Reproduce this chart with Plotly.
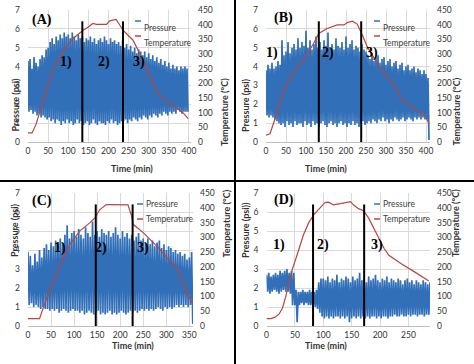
import plotly.graph_objects as go

W, H = 474, 364

# ---------------- data ----------------
# Panel A (pressure envelope every 5 min, t = 0..395)
A_step = 5
A_p_hi = [4.3, 4.4, 3.9, 4.5, 4.2, 4.0, 4.4, 4.6, 4.5,
          4.9, 5.0, 5.3, 5.5, 5.2, 5.6, 5.4, 5.7, 5.5, 5.8, 5.6, 5.7,
          5.5, 5.8, 5.6, 5.4, 5.7, 5.5, 5.6, 5.3, 5.5, 5.4, 5.6, 5.3, 5.5, 5.2, 5.4, 5.5, 5.3, 5.6, 5.4, 5.2,
          5.5, 5.3, 5.4, 5.2, 5.3, 5.1,
          5.4, 5.0, 5.2, 4.9, 5.1, 4.8, 5.0, 4.7, 4.9, 4.8, 4.6, 4.8, 4.5, 4.7, 4.4, 4.6, 4.3, 4.5, 4.2, 4.4,
          4.1, 4.3, 4.0, 4.2, 3.9, 4.1, 3.9, 4.0, 3.8, 4.0, 3.9, 4.0, 3.9]
A_p_lo = [1.6, 1.7, 1.5, 1.6, 1.4, 1.5, 1.3, 1.4, 1.3,
          1.2, 1.3, 1.1, 1.2, 1.0, 1.2, 1.1, 0.9, 1.1, 1.0, 1.2, 1.0,
          1.1, 0.9, 1.0, 1.2, 1.0, 1.1, 0.9, 1.0, 1.1, 0.9, 1.0, 1.2, 1.0, 0.9, 1.1, 1.0, 1.0, 0.9, 1.1, 1.0,
          1.2, 1.0, 1.1, 0.9, 1.0, 1.1,
          1.1, 1.2, 1.0, 1.2, 1.1, 1.3, 1.2, 1.1, 1.3, 1.2, 1.4, 1.3, 1.2, 1.4, 1.3, 1.5, 1.4, 1.3, 1.5, 1.4,
          1.6, 1.5, 1.4, 1.6, 1.5, 1.6, 1.5, 1.7, 1.6, 1.5, 1.6, 1.6, 1.6]
A_temp_t = [0, 10, 20, 29, 40, 54, 65, 79, 95, 112, 137, 150, 161, 170, 195, 203, 219, 228, 236, 261, 286, 310, 327, 360, 385, 398]
A_temp = [31, 31, 60, 97, 150, 216, 255, 290, 325, 353, 381, 392, 404, 401, 401, 413, 418, 399, 381, 347, 279, 199, 159, 125, 100, 80]
A_lines = [135, 236]
A_region_t = [95, 190, 276]
A_region_p = [4.25, 4.25, 4.25]

# Panel B (every 5 min, t = 0..405)
B_step = 5
B_p_hi = [3.8, 4.1, 3.9, 4.2, 3.9, 4.0, 4.3, 4.1,
          5.4, 4.6, 4.8, 5.3, 4.7, 5.0, 5.2, 4.9, 5.5, 5.0, 5.3, 5.1, 5.9,
          5.0, 5.4, 4.9, 5.2, 5.6, 5.0, 5.3, 4.9, 5.4, 5.1, 5.8, 5.0, 5.2, 4.9, 5.5, 5.1, 5.0, 5.3, 4.9, 5.6,
          5.0, 5.2, 5.4, 4.9, 5.1, 5.0, 4.8, 5.2, 4.9, 4.8,
          4.6, 4.4, 4.7, 4.3, 4.5, 4.6, 4.2, 4.4, 4.5, 4.1, 4.3, 4.4, 4.0, 4.2, 4.3, 3.9, 4.1, 4.2, 3.8, 4.0,
          4.1, 3.8, 3.9, 4.0, 3.7, 3.9, 3.8, 3.6, 3.8, 3.6, 3.4]
B_p_lo = [1.4, 1.3, 1.4, 1.3, 1.2, 1.1, 1.0, 0.9,
          1.0, 0.8, 1.1, 0.9, 1.0, 0.8, 1.1, 0.9, 1.0, 1.0, 0.8, 1.1, 0.9,
          1.0, 0.8, 1.1, 0.9, 1.0, 0.8, 1.0, 1.1, 0.9, 0.8, 1.0, 1.1, 0.9, 1.0, 0.8, 1.0, 1.1, 0.9, 1.0, 0.8,
          1.0, 0.9, 1.1, 0.9, 1.0, 0.8, 1.0, 1.1, 0.9, 1.0,
          1.1, 1.0, 1.2, 1.1, 1.0, 1.2, 1.1, 1.3, 1.1, 1.2, 1.0, 1.2, 1.1, 1.3, 1.2, 1.1, 1.2, 1.3, 1.1, 1.2,
          1.3, 1.2, 1.1, 1.3, 1.2, 1.3, 1.2, 1.3, 1.2, 1.2, 0.1]
B_temp_t = [0, 10, 27, 44, 69, 94, 119, 132, 153, 178, 195, 203, 216, 228, 241, 253, 278, 304, 329, 337, 362, 396, 408]
B_temp = [23, 28, 97, 177, 239, 279, 336, 370, 387, 399, 399, 407, 412, 402, 364, 325, 268, 222, 177, 148, 120, 91, 63]
B_lines = [132, 238]
B_region_t = [14, 154, 266]
B_region_p = [4.7, 4.7, 4.7]

# Panel C (every 5 min, t = 0..355)
C_step = 5
C_p_hi = [3.9, 3.7, 3.2, 3.8, 3.4, 4.0, 3.6, 4.1,
          4.3, 4.0, 4.4, 4.2, 4.5, 4.3, 4.6, 4.4, 4.8, 5.3, 4.6, 4.9, 5.0,
          4.7, 5.1, 4.8, 4.6, 5.2, 4.9, 4.7, 5.5, 4.8, 5.0, 4.7, 5.1, 4.9, 4.8, 5.0, 4.7, 4.9, 5.2, 4.8, 4.6,
          5.0, 4.7, 4.9, 4.6, 4.8, 4.5, 4.7, 4.9, 4.5, 4.6,
          4.4, 4.6, 4.3, 4.5, 4.2, 4.4, 4.5, 4.1, 4.3, 4.0, 4.2, 4.1, 3.9, 4.0, 3.8, 3.9, 3.7, 3.8, 3.5, 3.6, 3.9]
C_p_lo = [1.1, 1.2, 1.0, 1.1, 1.0, 0.9, 1.0, 0.9,
          0.9, 0.8, 0.9, 0.8, 0.9, 0.7, 0.8, 0.9, 0.8, 0.7, 0.8, 0.9, 0.8,
          0.8, 0.7, 0.8, 0.6, 0.7, 0.8, 0.7, 0.6, 0.7, 0.8, 0.6, 0.7, 0.6, 0.7, 0.8, 0.6, 0.7, 0.6, 0.7, 0.8,
          0.7, 0.6, 0.7, 0.8, 0.7, 0.8, 0.7, 0.8, 0.9, 0.8,
          0.9, 0.8, 0.9, 0.8, 0.9, 1.0, 0.9, 0.8, 1.0, 0.9, 1.0, 0.9, 1.0, 1.1, 1.0, 1.1, 1.0, 1.1, 1.0, 1.1, 0.1]
C_temp_t = [0, 25, 40, 54, 69, 91, 112, 134, 145, 156, 170, 178, 217, 225, 228, 250, 279, 308, 326, 344, 357]
C_temp = [25, 25, 92, 148, 204, 276, 321, 349, 366, 394, 411, 411, 410, 371, 344, 316, 271, 220, 190, 114, 75]
C_lines = [147, 227]
C_region_t = [70, 159, 250]
C_region_p = [4.13, 4.13, 4.13]

# Panel D (every 4 min, t = 0..288)
D_step = 4
D_p_hi = [2.7, 2.8, 2.6, 2.7, 2.8, 2.7, 2.9, 2.8, 2.9, 3.0, 2.8, 2.9,
          2.8, 1.9, 1.8, 1.8, 1.9, 1.8, 1.8, 1.9, 1.8,
          1.8, 1.9, 2.3, 2.5,
          2.5, 2.4, 2.6, 2.3, 2.5, 2.4, 2.7, 2.3, 2.5, 2.4,
          2.6, 2.5, 2.3, 2.6, 2.4, 2.5, 2.8, 2.4, 2.5, 2.3,
          2.6, 2.4, 2.5, 2.7, 2.4, 2.3, 2.5, 2.4, 2.6, 2.3,
          2.5, 2.4, 2.3, 2.5, 2.4, 2.2, 2.4, 2.5, 2.3, 2.4,
          2.2, 2.4, 2.3, 2.2, 2.4, 2.3, 2.2, 2.3]
D_p_lo = [1.8, 1.7, 1.8, 1.9, 1.8, 1.7, 1.8, 1.9, 1.8, 1.8, 1.7, 1.1,
          1.1, 0.2, 1.1, 1.2, 1.1, 1.2, 1.1, 1.1, 1.0,
          1.0, 0.9, 0.7, 0.5,
          0.4, 0.5, 0.4, 0.5, 0.4, 0.5, 0.5, 0.4, 0.5, 0.4,
          0.5, 0.2, 0.4, 0.5, 0.4, 0.5, 0.4, 0.5, 0.4, 0.5,
          0.4, 0.5, 0.5, 0.4, 0.5, 0.4, 0.5, 0.5, 0.4, 0.5,
          0.5, 0.6, 0.5, 0.5, 0.6, 0.5, 0.5, 0.6, 0.5, 0.6,
          0.6, 0.5, 0.6, 0.6, 0.5, 0.6, 0.6, 0.7]
D_temp_t = [0, 8, 15, 22, 28, 34, 40, 46, 53, 65, 74, 83, 94, 103, 109, 118, 130, 148, 153, 162, 171, 180, 195, 207, 215, 236, 260, 286]
D_temp = [25, 25, 30, 40, 60, 100, 150, 195, 235, 308, 348, 376, 399, 418, 419, 410, 414, 421, 410, 397, 390, 365, 308, 263, 240, 212, 184, 152]
D_lines = [82, 172]
D_region_t = [22, 99, 195]
D_region_p = [4.27, 4.27, 4.27]

panel_names = ["(A)", "(B)", "(C)", "(D)"]
panel_name_t = [36, 44, 31, 30]
panel_name_p = [6.45, 6.55, 6.56, 6.62]
region_texts = ["1)", "2)", "3)"]
x_ranges = [[0, 405], [0, 410], [0, 358], [0, 288]]
x_tick_max = [400, 400, 350, 250]
y_titles = ["Pressure (psi)", "Pressure (psi)", "Pressure (psi)", "Pressure (psi))"]
line_top = 6.4

# ---------------- styling / layout ----------------
P_COLOR = "#3170b8"
T_COLOR = "#b8453f"
GRID = "#d9d9d9"
TXT = "#333333"
FONT = "Lato, 'Open Sans', sans-serif"
SERIF = "'Liberation Serif', 'DejaVu Serif', serif"

# pixel boxes: (left, right, top, bottom)
boxes = [(28, 191, 10, 142), (266, 430, 10, 142), (28, 193, 193, 326), (266.5, 430, 193, 326)]

panels = [
    (A_step, A_p_hi, A_p_lo, A_temp_t, A_temp, A_lines, A_region_t, A_region_p),
    (B_step, B_p_hi, B_p_lo, B_temp_t, B_temp, B_lines, B_region_t, B_region_p),
    (C_step, C_p_hi, C_p_lo, C_temp_t, C_temp, C_lines, C_region_t, C_region_p),
    (D_step, D_p_hi, D_p_lo, D_temp_t, D_temp, D_lines, D_region_t, D_region_p),
]

fig = go.Figure()
layout = dict(width=W, height=H, margin=dict(l=0, r=0, t=0, b=0, pad=0), autosize=False,
              paper_bgcolor="white", plot_bgcolor="white", showlegend=False,
              font=dict(family=FONT, color=TXT))
shapes = []
annotations = []

for i, (step, hi, lo, tt, tv, lines, rt, rp) in enumerate(panels):
    n = i + 1
    xs = "" if n == 1 else str(n)
    ya = "" if n == 1 else str(n)
    yb = str(n + 4)
    L, R, T, B = boxes[i]
    # zigzag pressure signal between read peaks and troughs
    px, py = [], []
    for k, (h, l) in enumerate(zip(hi, lo)):
        t = k * step
        px += [t, t + step / 2]
        py += [h, l]
    fig.add_trace(go.Scatter(x=px, y=py, mode="lines", line=dict(color=P_COLOR, width=1.7),
                             xaxis="x" + xs, yaxis="y" + ya, hoverinfo="skip"))
    fig.add_trace(go.Scatter(x=tt, y=tv, mode="lines", line=dict(color=T_COLOR, width=1.2),
                             xaxis="x" + xs, yaxis="y" + yb, hoverinfo="skip"))

    layout["xaxis" + xs] = dict(domain=[L / W, R / W], anchor="y" + ya, range=x_ranges[i],
                                automargin=False,
                                tickmode="array", tickvals=list(range(0, x_tick_max[i] + 1, 50)),
                                showgrid=True, gridcolor=GRID, gridwidth=1, zeroline=False,
                                showline=True, linecolor="#bfbfbf", linewidth=1, ticks="",
                                tickfont=dict(size=8.5, family=FONT, color=TXT), ticklabelstandoff=1)
    layout["yaxis" + ya] = dict(domain=[1 - B / H, 1 - T / H], anchor="x" + xs, range=[0, 7],
                                automargin=False,
                                tickvals=list(range(0, 8)), showgrid=True, gridcolor=GRID,
                                zeroline=False, showline=False, ticks="",
                                tickfont=dict(size=8.5, family=FONT, color=TXT), ticklabelstandoff=7)
    layout["yaxis" + yb] = dict(domain=[1 - B / H, 1 - T / H], anchor="x" + xs, overlaying="y" + ya,
                                automargin=False,
                                side="right", range=[0, 450], tickvals=list(range(0, 451, 50)),
                                showgrid=False, zeroline=False, showline=False, ticks="",
                                tickfont=dict(size=8.5, family=FONT, color=TXT), ticklabelstandoff=6)

    # black boundary lines between regions
    for lx in lines:
        shapes.append(dict(type="line", xref="x" + xs, yref="y" + ya, x0=lx, x1=lx, y0=0, y1=line_top,
                           line=dict(color="black", width=2)))
    # region labels
    for txt, t_, p_ in zip(region_texts, rt, rp):
        annotations.append(dict(text="<b>%s</b>" % txt, x=t_, y=p_, xref="x" + xs, yref="y" + ya,
                                showarrow=False, font=dict(family=SERIF, size=14, color="black")))
    annotations.append(dict(text="<b>%s</b>" % panel_names[i], x=panel_name_t[i], y=panel_name_p[i],
                            xref="x" + xs, yref="y" + ya, showarrow=False,
                            font=dict(family=SERIF, size=14, color="black")))
    # axis titles
    cx = (L + R) / 2
    cy = (T + B) / 2
    annotations.append(dict(text="<b>Time (min)</b>", x=cx / W, y=1 - (B + 26) / H,
                            xref="paper", yref="paper", showarrow=False, borderpad=0,
                            font=dict(size=9, family=FONT, color=TXT)))
    annotations.append(dict(text="<b>%s</b>" % y_titles[i], x=(L - 21) / W, y=1 - cy / H,
                            xref="paper", yref="paper", showarrow=False, textangle=-90,
                            font=dict(size=9, family=FONT, color=TXT)))
    annotations.append(dict(text="<b>Temperature (°C)</b>", x=(R + 33) / W, y=1 - cy / H,
                            xref="paper", yref="paper", showarrow=False, textangle=-90,
                            font=dict(size=9, family=FONT, color=TXT)))
    # legend (text + short swatches)
    lx0 = R - 49
    for j, (name, col) in enumerate([("Pressure", P_COLOR), ("Temperature", T_COLOR)]):
        yy = T + 11 + j * 15
        shapes.append(dict(type="line", xref="paper", yref="paper", x0=(lx0 - 7) / W, x1=(lx0 - 1) / W,
                           y0=1 - yy / H, y1=1 - yy / H, line=dict(color=col, width=1.5)))
        annotations.append(dict(text=name, x=lx0 / W, y=1 - yy / H, xref="paper", yref="paper",
                                xanchor="left", showarrow=False, font=dict(size=8.5, family=FONT, color="#404040")))

# dividers between panels
shapes.append(dict(type="line", xref="paper", yref="paper", x0=235 / W, x1=235 / W, y0=0, y1=1,
                   line=dict(color="black", width=2)))
shapes.append(dict(type="line", xref="paper", yref="paper", x0=0, x1=1, y0=1 - 181 / H, y1=1 - 181 / H,
                   line=dict(color="black", width=2)))

layout["shapes"] = shapes
layout["annotations"] = annotations
fig.update_layout(**layout)
fig.write_html("out.html", config={"displayModeBar": False},
               post_script="document.body.style.margin='0px';document.body.style.overflow='hidden';")
